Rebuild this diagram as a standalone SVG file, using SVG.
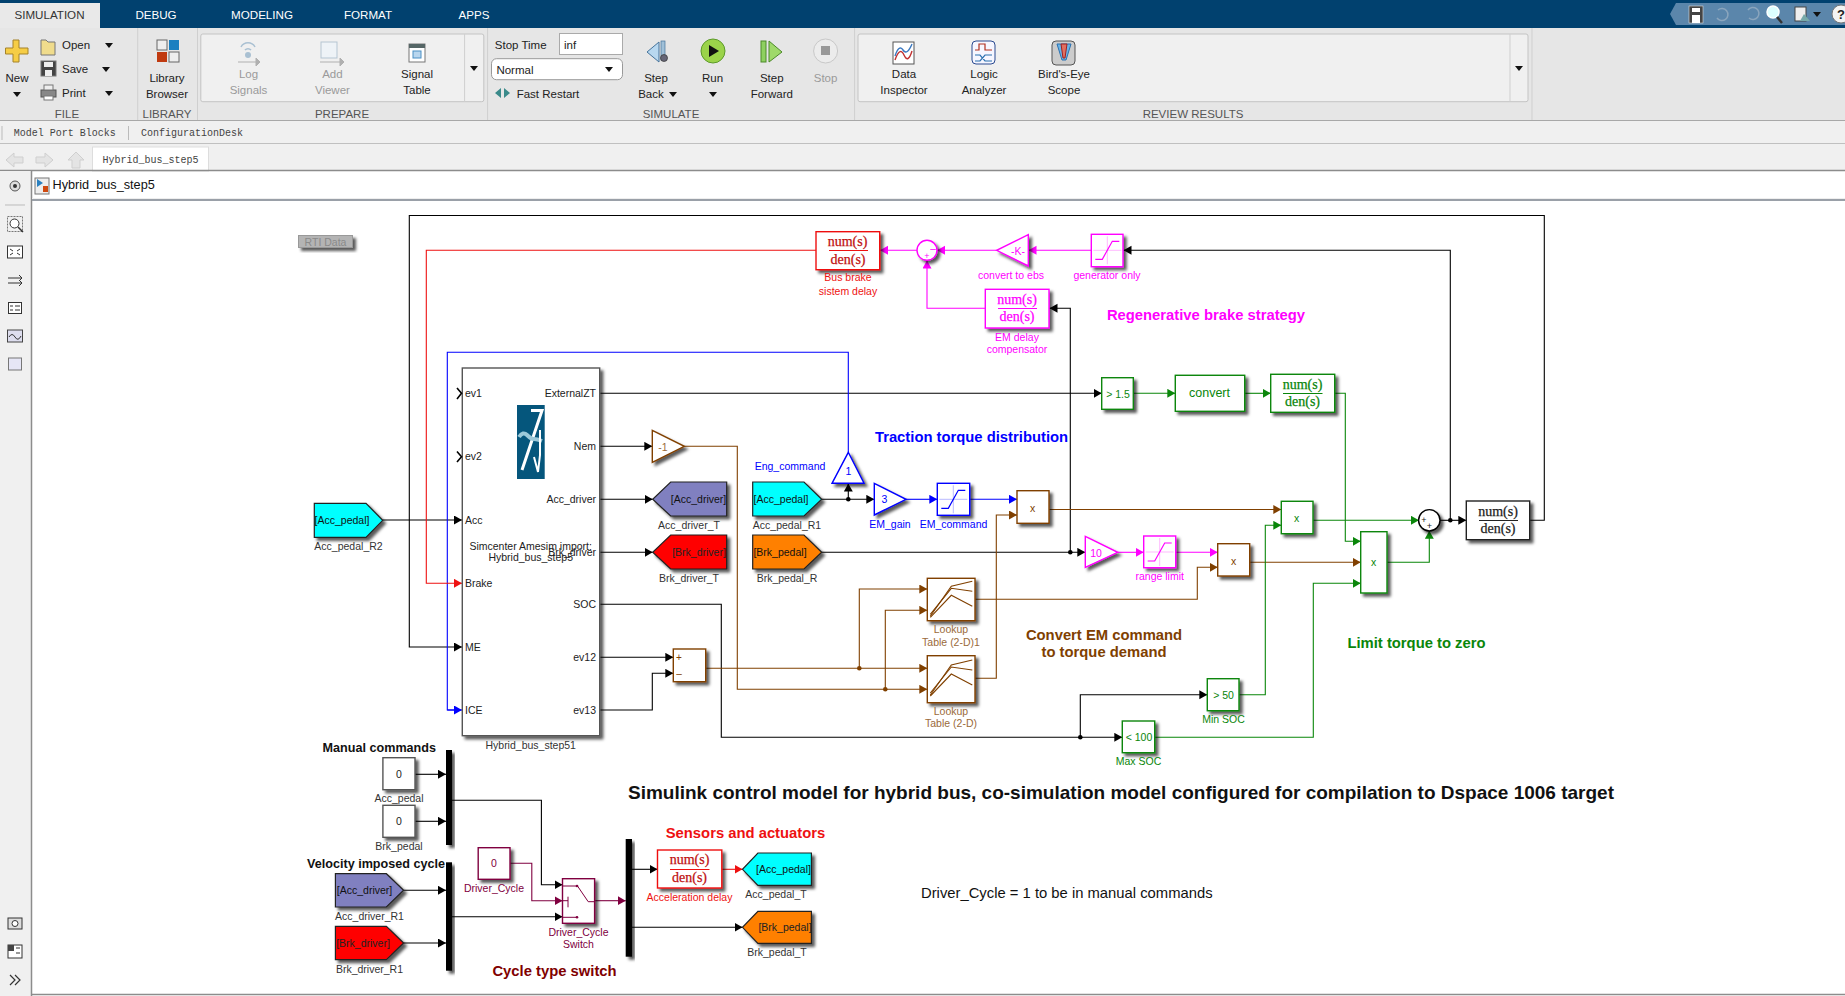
<svg xmlns="http://www.w3.org/2000/svg" xmlns:xlink="http://www.w3.org/1999/xlink" width="1845" height="996" viewBox="0 0 1845 996">
<style>
text{font-family:"Liberation Sans",Arial,sans-serif;dominant-baseline:central}
.m{text-anchor:middle}
.e{text-anchor:end}
.lab{font-size:10.5px;text-anchor:middle;transform:translateY(-.7px)}
.port{font-size:10.5px;fill:#222;transform:translateY(-.4px)}
.rb{font-size:11.5px;fill:#222;text-anchor:middle}
.rg{font-size:11.5px;fill:#9a9a9a;text-anchor:middle}
.gl{font-size:11.5px;fill:#555;text-anchor:middle}
.mono{font-family:"Liberation Mono",monospace;font-size:10px;fill:#444}
.tab{font-size:11.6px;fill:#fff;text-anchor:middle}
.tf{font-family:"Liberation Serif",serif;font-size:14px;text-anchor:middle;stroke-width:.25;stroke:currentColor}
.h{font-weight:bold;font-size:14.8px}
.b{fill:#fff;stroke-width:1.4;filter:url(#sh)}
.c path,.c line{fill:none;stroke-width:1.1}
.k{stroke:#000}.kf{fill:#000}
.br{stroke:#804000;color:#804000}.brf{fill:#804000}.brl{fill:#9a6a3a}
.gr{stroke:#0a860a;color:#0a860a}.grf{fill:#0a860a;color:#0a860a}
.mg{stroke:#ff00ff;color:#ff00ff}.mgf{fill:#ff00ff;color:#ff00ff}
.bl{stroke:#0000ff;color:#0000ff}.blf{fill:#0000ff}
.rd{stroke:#ee1111;color:#ee1111}.rdf{fill:#ee1111}
.mr{stroke:#800040;color:#800040}.mrf{fill:#800040}
.panel{fill:#f0f0f0;stroke:#c4c4c4}
.sep{stroke:#cfcfcf}
</style>
<defs>
<filter id="sh" x="-30%" y="-30%" width="170%" height="170%"><feDropShadow dx="3" dy="3" stdDeviation="1.6" flood-color="#000" flood-opacity=".65"/></filter>
<marker id="ak" markerUnits="userSpaceOnUse" markerWidth="9" markerHeight="10" refX="8" refY="4.5" orient="auto"><path d="M0 0L8 4.5L0 9z" fill="#000"/></marker>
<marker id="abr" markerUnits="userSpaceOnUse" markerWidth="9" markerHeight="10" refX="8" refY="4.5" orient="auto"><path d="M0 0L8 4.5L0 9z" fill="#804000"/></marker>
<marker id="agr" markerUnits="userSpaceOnUse" markerWidth="9" markerHeight="10" refX="8" refY="4.5" orient="auto"><path d="M0 0L8 4.5L0 9z" fill="#0a860a"/></marker>
<marker id="amg" markerUnits="userSpaceOnUse" markerWidth="9" markerHeight="10" refX="8" refY="4.5" orient="auto"><path d="M0 0L8 4.5L0 9z" fill="#ff00ff"/></marker>
<marker id="abl" markerUnits="userSpaceOnUse" markerWidth="9" markerHeight="10" refX="8" refY="4.5" orient="auto"><path d="M0 0L8 4.5L0 9z" fill="#0000ff"/></marker>
<marker id="ard" markerUnits="userSpaceOnUse" markerWidth="9" markerHeight="10" refX="8" refY="4.5" orient="auto"><path d="M0 0L8 4.5L0 9z" fill="#ee1111"/></marker>
<marker id="amr" markerUnits="userSpaceOnUse" markerWidth="9" markerHeight="10" refX="8" refY="4.5" orient="auto"><path d="M0 0L8 4.5L0 9z" fill="#800040"/></marker>
<g id="sat" fill="none"><path d="M16 2V30M2 16H30" stroke="currentColor" stroke-opacity=".35" stroke-width=".8"/><path d="M4 25H11L21 7H28" stroke="currentColor" stroke-width="1.2"/></g>
<g id="lut" fill="none" stroke="#804000" stroke-width="1.1"><path d="M3 38L24 8L45 3"/><path d="M3 36L24 10L45 13"/><path d="M3 39L24 17L45 28"/></g>
</defs>

<rect width="1845" height="996" fill="#fff"/>

<!-- application chrome -->
<g id="ribbon">
<rect width="1845" height="28" fill="#01416f"/>
<rect y="28" width="1845" height="92" fill="#e6e6e6"/>
<rect y="3" width="100" height="25" fill="#e9e9e9"/>
<text x="49.5" y="14.7" class="tab" style="fill:#333">SIMULATION</text>
<text x="156" y="14.7" class="tab">DEBUG</text>
<text x="262" y="14.7" class="tab">MODELING</text>
<text x="368" y="14.7" class="tab">FORMAT</text>
<text x="474" y="14.7" class="tab">APPS</text>
<path d="M1676 3H1845V25H1676L1670 14z" fill="#5b86ab"/>
<rect x="1689" y="6" width="14" height="17" fill="#444" stroke="#ddd" stroke-width=".6"/><rect x="1692" y="8" width="8" height="4" fill="#fff"/><rect x="1692" y="15" width="8" height="8" fill="#fff"/>
<path d="M1718 10a6 6 0 1 1 -1 8" fill="none" stroke="#8aa5bd" stroke-width="1.5"/>
<path d="M1748 10a6 6 0 1 1 1 8" fill="none" stroke="#8aa5bd" stroke-width="1.5"/>
<circle cx="1773" cy="12" r="6" fill="#dff" stroke="#fff" stroke-width="1.5"/><path d="M1777 17L1782 23" stroke="#333" stroke-width="2.4"/>
<rect x="1795" y="7" width="11" height="14" fill="#eee" stroke="#444"/><path d="M1804 14L1810 21H1800z" fill="#7aa"/><path d="M1813 12h8l-4 5z" fill="#111"/>
<circle cx="1841" cy="14" r="9" fill="#f4f4f4" stroke="#777"/><text x="1841" y="14" class="m" style="font-size:13px;font-weight:bold;fill:#222">?</text>

<path d="M137.700 28V120M197.500 28V120M487.600 28V120M854.600 28V120M1532 28V120" class="sep"/>
<path d="M0 120.500H1845" stroke="#a8a8a8"/>
<path d="M13 40h6v8h9v6h-9v8h-6v-8H5.500v-6H13z" fill="#f6cd45" stroke="#a5832a"/>
<text x="17" y="78" class="rb">New</text><path d="M13 92h8l-4 5z" fill="#111"/>
<path d="M41 40h5l2 2h7v13H41z" fill="#f0dc8c" stroke="#777"/><text x="62" y="45" class="rb" style="text-anchor:start">Open</text><path d="M105 43h8l-4 5z" fill="#111"/>
<rect x="41" y="61" width="15" height="15" fill="#444" stroke="#777"/><rect x="44" y="62" width="9" height="5" fill="#eee"/><rect x="45" y="70" width="7" height="6" fill="#eee"/><text x="62" y="69" class="rb" style="text-anchor:start">Save</text><path d="M102 67h8l-4 5z" fill="#111"/>
<rect x="41" y="90" width="15" height="7" fill="#888" stroke="#555"/><rect x="44" y="85" width="9" height="5" fill="#eee" stroke="#777"/><rect x="44" y="96" width="9" height="4" fill="#fff" stroke="#777"/><text x="62" y="93" class="rb" style="text-anchor:start">Print</text><path d="M105 91h8l-4 5z" fill="#111"/>
<text x="67" y="114" class="gl">FILE</text>
<rect x="157" y="40" width="10" height="10" fill="#eee" stroke="#666"/><rect x="169" y="40" width="10" height="10" fill="#1a7fc0"/><rect x="157" y="52" width="10" height="10" fill="#c03a10"/><rect x="169" y="52" width="10" height="10" fill="#eee" stroke="#666"/>
<text x="167" y="78" class="rb">Library</text><text x="167" y="94" class="rb">Browser</text><text x="167" y="114" class="gl">LIBRARY</text>

<rect x="200.800" y="34" width="283" height="67.700" rx="2" class="panel"/><path d="M464.600 34V101.700" class="sep"/>
<path d="M241 47a8 8 0 0 1 14 0M245 50a4 4 0 0 1 6 0" fill="none" stroke="#a9c0d2" stroke-width="1.5"/><circle cx="248" cy="55" r="3" fill="#a9c0d2"/><path d="M238 62H256M256 58L260 62L256 66z" stroke="#b0b0b0" fill="#b0b0b0"/>
<rect x="321" y="42" width="16" height="16" fill="#eef3f7" stroke="#b5c5d2"/><path d="M320 62H340M340 58L344 62L340 66z" stroke="#b0b0b0" fill="#b0b0b0"/>
<rect x="409" y="44" width="16" height="18" fill="#fff" stroke="#777"/><rect x="409" y="44" width="16" height="4" fill="#566"/><rect x="413" y="51" width="8" height="7" fill="#b8d6ee" stroke="#4a8fc4"/>
<text x="248.500" y="74" class="rg">Log</text><text x="248.500" y="90" class="rg">Signals</text>
<text x="332.400" y="74" class="rg">Add</text><text x="332.400" y="90" class="rg">Viewer</text>
<text x="417" y="74" class="rb">Signal</text><text x="417" y="90" class="rb">Table</text>
<path d="M470 66h8l-4 5z" fill="#111"/><text x="342" y="114" class="gl">PREPARE</text>

<text x="494.800" y="45" class="rb" style="text-anchor:start">Stop Time</text>
<rect x="559.500" y="33.500" width="63" height="21" fill="#fff" stroke="#aaa"/><text x="564" y="45" class="rb" style="text-anchor:start">inf</text>
<rect x="491.500" y="58.700" width="131" height="21" rx="5" fill="#fff" stroke="#999"/><text x="496.400" y="70" class="rb" style="text-anchor:start">Normal</text><path d="M605 67h8l-4 5z" fill="#111"/>
<path d="M495 93l6-5v10zM510 93l-6-5v10z" fill="#3a8a8a"/><text x="516.700" y="94" class="rb" style="text-anchor:start">Fast Restart</text>
<path d="M659 42V62L647 52z" fill="#b8d8f0" stroke="#46739a"/><rect x="661" y="41" width="4" height="19" fill="#a0c0d8" stroke="#46739a" stroke-width=".7"/><circle cx="664" cy="58" r="3.500" fill="#667" stroke="#333" stroke-width=".7"/>
<text x="656" y="78" class="rb">Step</text><text x="651" y="94" class="rb">Back</text><path d="M669 92h8l-4 5z" fill="#111"/>
<circle cx="713" cy="51" r="12" fill="#9bd34a" stroke="#5c9a2a"/><path d="M709 45L719 51L709 57z" fill="#111"/><text x="712.600" y="78" class="rb">Run</text><path d="M709 92h8l-4 5z" fill="#111"/>
<rect x="761" y="41" width="5" height="21" fill="#8ed060" stroke="#4d8a2a"/><path d="M769 41V62L782 52z" fill="#9fd96a" stroke="#4d8a2a"/><text x="771.800" y="78" class="rb">Step</text><text x="771.800" y="94" class="rb">Forward</text>
<circle cx="825.600" cy="51" r="12" fill="#ececec" stroke="#c8c8c8"/><rect x="821" y="46" width="9" height="9" fill="#999"/><text x="825.600" y="78" class="rg">Stop</text>
<text x="671" y="114" class="gl">SIMULATE</text>

<rect x="858" y="34" width="670" height="67.700" rx="2" class="panel"/><path d="M1510 34V101.700" class="sep"/><path d="M1515 66h8l-4 5z" fill="#111"/>
<rect x="893" y="42" width="21" height="22" fill="#fff" stroke="#555"/><path d="M895 56q4-12 8-6t9-6" fill="none" stroke="#3a78c0" stroke-width="1.4"/><path d="M895 60q5-14 9-5t8-4" fill="none" stroke="#c03030" stroke-width="1.4"/>
<rect x="972" y="41" width="23" height="23" rx="4" fill="#f6f6ff" stroke="#2a4a90"/><path d="M975 50h4v-6h6v6h7" fill="none" stroke="#b03020" stroke-width="1.2"/><path d="M975 55h5l5 6h7M975 61h5l5-6h7" fill="none" stroke="#2a70b0" stroke-width="1.2"/>
<rect x="1052" y="41" width="23" height="24" rx="4" fill="#ccc" stroke="#555"/><path d="M1057 44H1071L1066 60H1062z" fill="#6ab4e6" stroke="#2a70b0"/><path d="M1061 44H1067L1065 58H1063z" fill="#e07060" stroke="#a02020"/>
<text x="904" y="74" class="rb">Data</text><text x="904" y="90" class="rb">Inspector</text>
<text x="984" y="74" class="rb">Logic</text><text x="984" y="90" class="rb">Analyzer</text>
<text x="1064" y="74" class="rb">Bird's-Eye</text><text x="1064" y="90" class="rb">Scope</text>
<text x="1193" y="114" class="gl">REVIEW RESULTS</text>

<rect y="121" width="1845" height="22" fill="#f0f0f0"/><path d="M0 143.500H1845" stroke="#c0c0c0"/>
<path d="M2 126V140M128.500 126V140" stroke="#bbb"/>
<text x="13.700" y="133" class="mono">Model Port Blocks</text><text x="141" y="133" class="mono">ConfigurationDesk</text>
<rect y="144" width="1845" height="26" fill="#f0f0f0"/>
<path d="M6 160l8-7v4h9v6h-9v4z" fill="#e4e4e4" stroke="#cfcfcf"/><path d="M53 160l-8-7v4h-9v6h9v4z" fill="#e4e4e4" stroke="#cfcfcf"/><path d="M76 152l8 8h-4v8h-8v-8h-4z" fill="#e4e4e4" stroke="#cfcfcf"/>
<rect x="92.500" y="147" width="116" height="24" fill="#fff" stroke="#ddd"/><text x="102.600" y="160" class="mono">Hybrid_bus_step5</text>
<path d="M0 170.500H1845" stroke="#8c8c8c" stroke-width="1.500"/>
<rect x="0" y="171" width="31" height="825" fill="#f0f0f0"/><path d="M31.500 171V996" stroke="#8c8c8c" stroke-width="1.500"/>
<path d="M32 200H1845" stroke="#9aa0a8" stroke-width="2"/>
<path d="M32 198.500H1845" stroke="#eee"/>
<rect x="35" y="178" width="14" height="16" fill="#eee" stroke="#777"/><path d="M37 179l6 4-6 4z" fill="#2a80c0"/><rect x="43" y="186" width="5" height="6" fill="#d04a10"/>
<text x="52.500" y="185" style="font-size:12.700px;fill:#111">Hybrid_bus_step5</text>
<path d="M31.500 994.500H1845" stroke="#8c8c8c" stroke-width="1.500"/>
<circle cx="15" cy="186" r="5" fill="#ddd" stroke="#555"/><circle cx="15" cy="186" r="2" fill="#333"/>
<path d="M5 205H25" stroke="#bbb"/>
<rect x="7.500" y="216.500" width="15" height="15" fill="none" stroke="#777" stroke-dasharray="2 1"/><circle cx="14.500" cy="223.500" r="4.500" fill="#fff" stroke="#333"/><path d="M18 227L23 232" stroke="#333" stroke-width="1.500"/>
<rect x="7.500" y="246" width="15" height="12" fill="#fff" stroke="#333"/><path d="M10 249l3 2M20 249l-3 2M10 255l3-2M20 255l-3-2" stroke="#333"/>
<path d="M8 278H21M8 283H21" stroke="#333"/><path d="M19 275l3 3-3 3M19 280l3 3-3 3" fill="none" stroke="#333"/>
<rect x="8.500" y="302.500" width="13" height="11" fill="#fff" stroke="#333"/><path d="M10 306h3M10 310h3M15 306h5M15 310h5" stroke="#333"/>
<rect x="7.500" y="330" width="15" height="12" fill="#dde" stroke="#444"/><path d="M9 337q3-5 6 0t6-1" fill="none" stroke="#333"/>
<rect x="8.500" y="358" width="13" height="12" fill="#e6e6f6" stroke="#777"/>
<rect x="8" y="918" width="14" height="11" fill="#ddd" stroke="#333"/><circle cx="15" cy="923.500" r="3" fill="#fff" stroke="#333"/>
<rect x="8" y="945" width="14" height="13" fill="#fff" stroke="#333"/><rect x="8" y="945" width="6" height="6" fill="#444"/><path d="M16 948h4M16 953h4" stroke="#333"/>
<path d="M10 975l5 5-5 5M15 975l5 5-5 5" fill="none" stroke="#333" stroke-width="1.200"/>
</g>

<!-- connectors -->
<g id="connectors" class="c">
<path class="k" marker-end="url(#ak)" d="M382.700 520H462"/>
<path class="k" marker-end="url(#ak)" d="M1530 520.300H1544.300V215.500H409.300V647H462"/>
<path class="k" marker-end="url(#ak)" d="M600 393.300H1101.700"/>
<path class="k" marker-end="url(#ak)" d="M600 446.300H652.300"/>
<path class="k" marker-end="url(#ak)" d="M600 499.300H652.700"/>
<path class="k" marker-end="url(#ak)" d="M600 552.300H652.700"/>
<path class="k" marker-end="url(#ak)" d="M600 657.300H673.300"/>
<path class="k" marker-end="url(#ak)" d="M600 710H652.300V673.300H673.300"/>
<path class="k" marker-end="url(#ak)" d="M600 604.300H721.300V737.300H1122.300"/>
<path class="k" marker-end="url(#ak)" d="M1080.300 737.300V694.700H1207.300"/>
<path class="k" marker-end="url(#ak)" d="M821.700 499.300H874.300"/>
<path class="k" marker-end="url(#ak)" d="M848.300 499.300V483.500"/>
<path class="k" marker-end="url(#ak)" d="M821.700 552.300H1085.300"/>
<path class="k" marker-end="url(#ak)" d="M1070.300 552.300V308.300H1049.500"/>
<path class="k" marker-end="url(#ak)" d="M1440 520.300H1466.300"/>
<path class="k" marker-end="url(#ak)" d="M1450.300 520.300V250.300H1123.500"/>
<path class="k" marker-end="url(#ak)" d="M415 774.300H446"/>
<path class="k" marker-end="url(#ak)" d="M415 821.300H446"/>
<path class="k" marker-end="url(#ak)" d="M403.600 890.300H446"/>
<path class="k" marker-end="url(#ak)" d="M403.600 943H446"/>
<path class="k" marker-end="url(#ak)" d="M452 800.300H541.400V884.700H562.500"/>
<path class="k" marker-end="url(#ak)" d="M452 916.700H562.500"/>
<path class="k" marker-end="url(#ak)" d="M632 869.300H657.500"/>
<path class="k" marker-end="url(#ak)" d="M632 927.300H742.500"/>
<path class="br" marker-end="url(#abr)" d="M684.300 446.300H737.300V689.300H927.300"/>
<path class="br" marker-end="url(#abr)" d="M705.700 668.300H927.300"/>
<path class="br" marker-end="url(#abr)" d="M859.300 668.300V589H927.300"/>
<path class="br" marker-end="url(#abr)" d="M885.300 689.300V610.300H927.300"/>
<path class="br" marker-end="url(#abr)" d="M975 678.300H996.300V515H1017"/>
<path class="br" marker-end="url(#abr)" d="M975 599.300H1197.300V567.300H1217.700"/>
<path class="br" marker-end="url(#abr)" d="M1049 509.500H1281.300"/>
<path class="br" marker-end="url(#abr)" d="M1249.700 562.300H1360.700"/>
<path class="bl" d="M848.300 452.300V352.300H447.300V710H454"/>
<path class="bl" marker-end="url(#abl)" d="M447.300 710H462"/>
<path class="bl" marker-end="url(#abl)" d="M906 499.300H937.300"/>
<path class="bl" marker-end="url(#abl)" d="M969.700 499.300H1017"/>
<path class="mg" marker-end="url(#amg)" d="M1117.700 552.300H1143.700"/>
<path class="mg" marker-end="url(#amg)" d="M1175.700 552.300H1217.700"/>
<path class="mg" marker-end="url(#amg)" d="M1091.300 250.300H1028.500"/>
<path class="mg" marker-end="url(#amg)" d="M996.700 250.300H937"/>
<path class="mg" marker-end="url(#amg)" d="M917 250.300H880"/>
<path class="mg" marker-end="url(#amg)" d="M985.300 308.300H927V260.500"/>
<path class="rd" marker-end="url(#ard)" d="M816 250.300H426.300V583.300H462"/>
<path class="rd" marker-end="url(#ard)" d="M721.800 869.300H742.500"/>
<path class="gr" marker-end="url(#agr)" d="M1133.300 393.300H1175.300"/>
<path class="gr" marker-end="url(#agr)" d="M1244.700 393.300H1270.700"/>
<path class="gr" marker-end="url(#agr)" d="M1334.700 393.300H1345.300V541.300H1360.700"/>
<path class="gr" marker-end="url(#agr)" d="M1313 520.300H1419"/>
<path class="gr" marker-end="url(#agr)" d="M1387 562.300H1429.300V530.800"/>
<path class="gr" marker-end="url(#agr)" d="M1239 694.700H1265.300V525.300H1281.300"/>
<path class="gr" marker-end="url(#agr)" d="M1154.700 737.300H1313.300V583.300H1360.700"/>
<path class="mr" marker-end="url(#amr)" d="M510 863.300H531.800V900.700H562.500"/>
<path class="mr" marker-end="url(#amr)" d="M594.600 900.700H625.700"/>
<circle cx="848.300" cy="499.300" r="2.300" class="kf"/><circle cx="1070.300" cy="552.300" r="2.300" class="kf"/><circle cx="1080.300" cy="737.300" r="2.300" class="kf"/><circle cx="1450.300" cy="520.300" r="2.300" class="kf"/>
<circle cx="859.300" cy="668.300" r="2.300" class="brf"/><circle cx="885.300" cy="689.300" r="2.300" class="brf"/>
</g>

<!-- blocks -->
<g id="rti-data"><rect x="298.500" y="235.500" width="54" height="12" fill="#b4b4b4" stroke="#999" filter="url(#sh)"/><text x="325.500" y="241.500" class="m" style="font-size:10.500px;fill:#8a8a8a">RTI Data</text></g>

<g id="hybrid-bus-step51">
<rect x="462.300" y="368" width="137.400" height="367.700" class="b" stroke="#555"/>
<rect x="517" y="405" width="27.700" height="74" fill="#05567c"/>
<path d="M531 410.500H542L522 470" fill="none" stroke="#fff" stroke-width="3"/>
<path d="M519 437q4-6 8-2t7 4t8 2" fill="none" stroke="#9cc9d9" stroke-width="4"/>
<path d="M540 430V455L538 472L534 457" fill="none" stroke="#fff" stroke-width="2"/>
<path d="M457 388L461.500 393.300L457 399M457 451.400L461.500 456.700L457 462" fill="none" stroke="#000" stroke-width="1.600"/>
<text x="465" y="393.300" class="port">ev1</text><text x="465" y="456.700" class="port">ev2</text><text x="465" y="520" class="port">Acc</text><text x="465" y="583.300" class="port">Brake</text><text x="465" y="647" class="port">ME</text><text x="465" y="710" class="port">ICE</text>
<text x="596" y="393.300" class="port e">ExternalZT</text><text x="596" y="446.300" class="port e">Nem</text><text x="596" y="499.300" class="port e">Acc_driver</text><text x="596" y="552.300" class="port e">Brk_driver</text><text x="596" y="604.300" class="port e">SOC</text><text x="596" y="657.300" class="port e">ev12</text><text x="596" y="710" class="port e">ev13</text>
<text x="530.700" y="546.500" class="lab" fill="#222">Simcenter Amesim import:</text><text x="530.700" y="557.500" class="lab" fill="#222">Hybrid_bus_step5</text>
<text x="530.700" y="745.300" class="lab" fill="#333">Hybrid_bus_step51</text>
</g>

<g id="acc-pedal-r2"><path d="M314.300 503.300H366L382.700 520.300L366 537.300H314.300z" fill="#00ffff" stroke="#222" stroke-width="1.200" filter="url(#sh)"/><text x="342" y="520" class="m" style="font-size:10.500px;fill:#111">[Acc_pedal]</text><text x="348.500" y="546.500" class="lab" fill="#333">Acc_pedal_R2</text></g>
<g id="gain-neg1"><path d="M652.300 430.300L684.300 446.300L652.300 462.300z" class="b br"/><text x="663" y="446.500" class="m brl" style="font-size:10.500px">-1</text></g>
<g id="acc-driver-t"><path d="M726.700 482H670.700L652.700 499.300L670.700 516H726.700z" fill="#8080c0" stroke="#222" stroke-width="1.200" filter="url(#sh)"/><text x="698.500" y="499" class="m" style="font-size:10.500px;fill:#111">[Acc_driver]</text><text x="689" y="525.500" class="lab" fill="#333">Acc_driver_T</text></g>
<g id="brk-driver-t"><path d="M726.700 535H670.700L652.700 552.300L670.700 569H726.700z" fill="#ff0000" stroke="#222" stroke-width="1.200" filter="url(#sh)"/><text x="699" y="552" class="m" style="font-size:10.500px;fill:#222">[Brk_driver]</text><text x="689" y="578.500" class="lab" fill="#333">Brk_driver_T</text></g>
<g id="sum-ev"><rect x="673.300" y="649" width="32.400" height="32.700" class="b br"/><text x="679" y="657.300" class="m brf" style="font-size:10px">+</text><text x="679" y="673" class="m brf" style="font-size:10px">–</text></g>

<g id="eng-command"><path d="M848.300 452.300L864 483.300H832z" class="b bl"/><text x="848.500" y="470.500" class="m blf" style="font-size:10.500px">1</text><text x="790" y="467" class="lab blf">Eng_command</text></g>
<g id="acc-pedal-r1"><path d="M752.700 482H804L821.700 499.300L804 516H752.700z" fill="#00ffff" stroke="#222" stroke-width="1.200" filter="url(#sh)"/><text x="781" y="499" class="m" style="font-size:10.500px;fill:#111">[Acc_pedal]</text><text x="787" y="525.500" class="lab" fill="#333">Acc_pedal_R1</text></g>
<g id="brk-pedal-r"><path d="M752.700 535H804L821.700 552.300L804 569H752.700z" fill="#ff8000" stroke="#222" stroke-width="1.200" filter="url(#sh)"/><text x="780" y="552" class="m" style="font-size:10.500px;fill:#111">[Brk_pedal]</text><text x="787" y="578.500" class="lab" fill="#333">Brk_pedal_R</text></g>
<g id="em-gain"><path d="M874.300 483.300L906 499.300L874.300 515z" class="b bl"/><text x="884.500" y="499.300" class="m blf" style="font-size:10.500px">3</text><text x="890" y="524.500" class="lab blf">EM_gain</text></g>
<g id="em-command"><rect x="937.300" y="483.300" width="32.400" height="32" class="b bl"/><use href="#sat" x="937.300" y="483.300" class="bl" style="stroke:none"/><text x="953.500" y="524.500" class="lab blf">EM_command</text></g>
<g id="mult-em"><rect x="1017" y="490.700" width="32" height="32.600" class="b br"/><text x="1032.500" y="507.500" class="m brf" style="font-size:10.500px">x</text></g>
<g id="gain-10"><path d="M1085.300 536.300L1117.700 552.300L1085.300 567.300z" class="b mg"/><text x="1096" y="552.500" class="m mgf" style="font-size:10.500px">10</text></g>
<g id="range-limit"><rect x="1143.700" y="536" width="32" height="31.700" class="b mg"/><use href="#sat" x="1143.700" y="536" class="mg" style="stroke:none"/><text x="1159.700" y="576.500" class="lab mgf">range limit</text></g>
<g id="mult-regen"><rect x="1217.700" y="543.700" width="32" height="32.300" class="b br"/><text x="1233.500" y="560.500" class="m brf" style="font-size:10.500px">x</text></g>
<g id="lookup-1"><rect x="927.300" y="578.300" width="47.700" height="42.400" class="b br"/><use href="#lut" x="927.300" y="578.300"/><text x="951" y="629.500" class="lab brl">Lookup</text><text x="951" y="642.300" class="lab brl">Table (2-D)1</text></g>
<g id="lookup-2"><rect x="927.300" y="655.700" width="47.700" height="47" class="b br"/><use href="#lut" x="927.300" y="657"/><text x="951" y="711.500" class="lab brl">Lookup</text><text x="951" y="723.500" class="lab brl">Table (2-D)</text></g>
<g id="min-soc"><rect x="1207.300" y="678.700" width="31.700" height="32" class="b gr"/><text x="1223.500" y="695" class="m grf" style="font-size:10.500px">&gt; 50</text><text x="1223.500" y="719.300" class="lab grf">Min SOC</text></g>
<g id="max-soc"><rect x="1122.300" y="721" width="32.400" height="31.700" class="b gr"/><text x="1139" y="737.300" class="m grf" style="font-size:10.500px">&lt; 100</text><text x="1138.500" y="761.300" class="lab grf">Max SOC</text></g>

<g id="cmp-15"><rect x="1101.700" y="377.700" width="31.600" height="31.600" class="b gr"/><text x="1118" y="394" class="m grf" style="font-size:10.500px">&gt; 1.5</text></g>
<g id="convert"><rect x="1175.300" y="375.300" width="69.400" height="36" class="b gr"/><text x="1209.500" y="392.500" class="m grf" style="font-size:12.500px">convert</text></g>
<g id="tf-green"><rect x="1270.700" y="374.300" width="64" height="38" class="b gr"/><text x="1302.500" y="384" class="tf grf">num(s)</text><path d="M1283 393.500H1322.500" class="gr"/><text x="1302.500" y="401" class="tf grf">den(s)</text></g>
<g id="mult-top"><rect x="1281.300" y="501.300" width="31.700" height="32.400" class="b gr"/><text x="1296.500" y="518" class="m grf" style="font-size:10.500px">x</text></g>
<g id="mult-big"><rect x="1360.700" y="531.700" width="26.300" height="61.300" class="b gr"/><text x="1373.500" y="562" class="m grf" style="font-size:10.500px">x</text></g>
<g id="sum-out"><circle cx="1429.300" cy="520.300" r="10.700" class="b k"/><text x="1424" y="520" class="m" style="font-size:9px;fill:#222">+</text><text x="1429.500" y="526" class="m" style="font-size:9px;fill:#222">+</text></g>
<g id="tf-out"><rect x="1466.300" y="501" width="63.400" height="38.700" class="b" stroke="#222"/><text x="1498" y="511" class="tf" fill="#222" style="color:#222">num(s)</text><path d="M1479 520.500H1518" stroke="#222"/><text x="1498" y="528" class="tf" fill="#222" style="color:#222">den(s)</text></g>

<g id="bus-brake"><rect x="816" y="231.700" width="63.700" height="38" class="b rd"/><text x="847.500" y="241.500" class="tf" style="fill:#c01010;color:#c01010">num(s)</text><path d="M829 250.500H868" class="rd"/><text x="848" y="259" class="tf" style="fill:#c01010;color:#c01010">den(s)</text><text x="848" y="278" class="lab rdf">Bus brake</text><text x="848" y="291.700" class="lab rdf">sistem delay</text></g>
<g id="sum-brake"><circle cx="927" cy="250.300" r="10" class="b mg"/><text x="933" y="248" class="m mgf" style="font-size:10px">–</text><text x="927" y="256" class="m mgf" style="font-size:9px">+</text></g>
<g id="convert-ebs"><path d="M1028.300 234.700V266L996.700 250.300z" class="b mg"/><text x="1018" y="251" class="m mgf" style="font-size:10.500px">-K-</text><text x="1011" y="275.500" class="lab mgf">convert to ebs</text></g>
<g id="generator-only"><rect x="1091.300" y="234.300" width="31.700" height="32.400" class="b mg"/><use href="#sat" x="1091.300" y="234.300" class="mg" style="stroke:none"/><text x="1107" y="275.500" class="lab mgf">generator only</text></g>
<g id="em-delay"><rect x="985.300" y="289.300" width="63.700" height="38.700" class="b mg"/><text x="1017" y="299" class="tf mgf">num(s)</text><path d="M998 308.500H1037" class="mg"/><text x="1017" y="316.500" class="tf mgf">den(s)</text><text x="1017" y="337.500" class="lab mgf">EM delay</text><text x="1017" y="349.500" class="lab mgf">compensator</text></g>

<g id="const-acc"><rect x="382.900" y="757.700" width="32.100" height="32" class="b" stroke="#555"/><text x="399" y="773.500" class="m" style="font-size:10.500px;fill:#222">0</text><text x="399" y="798.700" class="lab" fill="#333">Acc_pedal</text></g>
<g id="const-brk"><rect x="382.900" y="805.300" width="32.100" height="32" class="b" stroke="#555"/><text x="399" y="820.500" class="m" style="font-size:10.500px;fill:#222">0</text><text x="399" y="846.700" class="lab" fill="#333">Brk_pedal</text></g>
<g id="mux-1"><rect x="446" y="750" width="6" height="95" fill="#000" filter="url(#sh)"/></g>
<g id="mux-2"><rect x="446" y="862.300" width="6" height="108.400" fill="#000" filter="url(#sh)"/></g>
<g id="acc-driver-r1"><path d="M335.400 873.700H386.400L403.600 890.300L386.400 907H335.400z" fill="#8080c0" stroke="#222" stroke-width="1.200" filter="url(#sh)"/><text x="364.500" y="890" class="m" style="font-size:10.500px;fill:#111">[Acc_driver]</text><text x="369.500" y="916.700" class="lab" fill="#333">Acc_driver_R1</text></g>
<g id="brk-driver-r1"><path d="M335.400 926.300H386.400L403.600 943L386.400 959.700H335.400z" fill="#ff0000" stroke="#222" stroke-width="1.200" filter="url(#sh)"/><text x="363" y="942.700" class="m" style="font-size:10.500px;fill:#222">[Brk_driver]</text><text x="369.500" y="969.300" class="lab" fill="#333">Brk_driver_R1</text></g>
<g id="driver-cycle"><rect x="478.200" y="847.700" width="31.800" height="31.600" class="b mr"/><text x="494" y="863" class="m mrf" style="font-size:10.500px">0</text><text x="494" y="888.300" class="lab mrf">Driver_Cycle</text></g>
<g id="driver-cycle-switch"><rect x="562.500" y="878.700" width="32.100" height="44.600" class="b mr"/><path d="M562.500 886H577.500L588.200 901.700H594.600M562.500 917.300H577.500M562.500 900.700H568M568 896.700V907.300" fill="none" class="mr"/><circle cx="577" cy="886" r="1.300" class="mrf"/><circle cx="577" cy="917.300" r="1.300" class="mrf"/><text x="578.500" y="932.300" class="lab mrf">Driver_Cycle</text><text x="578.500" y="944.300" class="lab mrf">Switch</text></g>
<g id="demux"><rect x="625.700" y="839" width="6.300" height="117.700" fill="#000" filter="url(#sh)"/></g>
<g id="accel-delay"><rect x="657.500" y="850" width="64.300" height="38" class="b rd"/><text x="689.500" y="859.500" class="tf" style="fill:#c01010;color:#c01010">num(s)</text><path d="M670 869.500H709.500" class="rd"/><text x="689.500" y="877" class="tf" style="fill:#c01010;color:#c01010">den(s)</text><text x="689.500" y="897.300" class="lab rdf">Acceleration delay</text></g>
<g id="acc-pedal-t"><path d="M811.400 853H757.900L742.500 869.300L757.900 885.300H811.400z" fill="#00ffff" stroke="#222" stroke-width="1.200" filter="url(#sh)"/><text x="783.500" y="869" class="m" style="font-size:10.500px;fill:#111">[Acc_pedal]</text><text x="776" y="894.300" class="lab" fill="#333">Acc_pedal_T</text></g>
<g id="brk-pedal-t"><path d="M811.400 911.300H757.900L742.500 927.300L757.900 943.300H811.400z" fill="#ff8000" stroke="#222" stroke-width="1.200" filter="url(#sh)"/><text x="785" y="927" class="m" style="font-size:10.500px;fill:#222">[Brk_pedal]</text><text x="777" y="952.300" class="lab" fill="#333">Brk_pedal_T</text></g>

<!-- annotations -->
<g id="annotations">
<text x="379.300" y="748.200" class="m" style="font-size:12.600px;font-weight:bold;fill:#111">Manual commands</text>
<text x="376" y="864.200" class="m" style="font-size:12.600px;font-weight:bold;fill:#111">Velocity imposed cycle</text>
<text x="745.500" y="832.800" class="m h" style="fill:#ee1111">Sensors and actuators</text>
<text x="554.500" y="970.500" class="m h" style="fill:#800000">Cycle type switch</text>
<text x="1121" y="792.500" class="m" style="font-size:19px;font-weight:bold;fill:#111">Simulink control model for hybrid bus, co-simulation model configured for compilation to Dspace 1006 target</text>
<text x="921" y="892.500" style="font-size:14.800px;fill:#111">Driver_Cycle = 1 to be in manual commands</text>
<text x="1206" y="315" class="m h" style="fill:#ff00ff">Regenerative brake strategy</text>
<text x="971.500" y="436.500" class="m h" style="fill:#0000ff">Traction torque distribution</text>
<text x="1104" y="634.500" class="m h" style="fill:#804000">Convert EM command</text>
<text x="1104" y="651.500" class="m h" style="fill:#804000">to torque demand</text>
<text x="1416.500" y="642.800" class="m h" style="fill:#0a860a">Limit torque to zero</text>
</g>
</svg>
